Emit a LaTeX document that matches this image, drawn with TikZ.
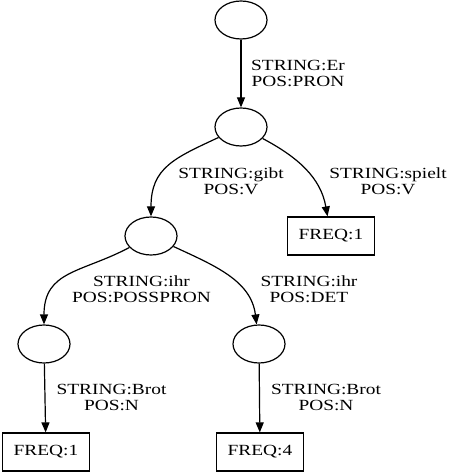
\documentclass[tikz,border=0pt]{standalone}
\usepackage{fontspec}
\setmainfont{Liberation Serif}[FakeStretch=1.25]
\usetikzlibrary{arrows.meta, shapes.geometric}

\begin{document}
\begin{tikzpicture}[x=1pt, y=1pt, line width=1.2pt, >={Triangle[length=10pt, width=8pt]},
    state/.style = {draw, ellipse, minimum width=52pt, minimum height=38pt, inner sep=0pt},
    freq/.style = {draw, rectangle, minimum width=87pt, minimum height=38pt, inner sep=0pt,
        font=\fontsize{15.5}{16}\selectfont},
    lab/.style = {align=center, inner sep=0pt, font=\fontsize{15.5}{16}\selectfont}]
    \useasboundingbox (0,0) rectangle (474,-473);
    \node[state] (A) at (241,-20) {};
    \node[state] (B) at (241,-127) {};
    \node[state] (C) at (151,-236) {};
    \node[state] (D) at (44,-344) {};
    \node[state] (E) at (259,-344) {};
    \node[freq] (F1) at (331,-236) {FREQ:1};
    \node[freq] (F2) at (46,-452) {FREQ:1};
    \node[freq] (F3) at (260,-452) {FREQ:4};
    \draw[->] (A) -- (B);
    \draw[->] (B) to[out=205, in=90, looseness=1.2] (C);
    \draw[->] (B) to[out=-28, in=100] (F1);
    \draw[->] (C) to[out=208, in=90, looseness=1.2] (D);
    \draw[->] (C) to[out=-25, in=97] (E);
    \draw[->] (D) -- (F2);
    \draw[->] (E) -- (F3);
    \node[lab] (L1) at (298,-73) {STRING:Er\\POS:PRON};
    \node[lab] (L2) at (231,-181) {STRING:gibt\\POS:V};
    \node[lab] (L3) at (388,-181) {STRING:spielt\\POS:V};
    \node[lab] (L4) at (141.5,-289.5) {STRING:ihr\\POS:POSSPRON};
    \node[lab] (L5) at (309,-289.5) {STRING:ihr\\POS:DET};
    \node[lab] (L6) at (111.5,-397) {STRING:Brot\\POS:N};
    \node[lab] (L7) at (326,-397) {STRING:Brot\\POS:N};
\end{tikzpicture}
\end{document}
